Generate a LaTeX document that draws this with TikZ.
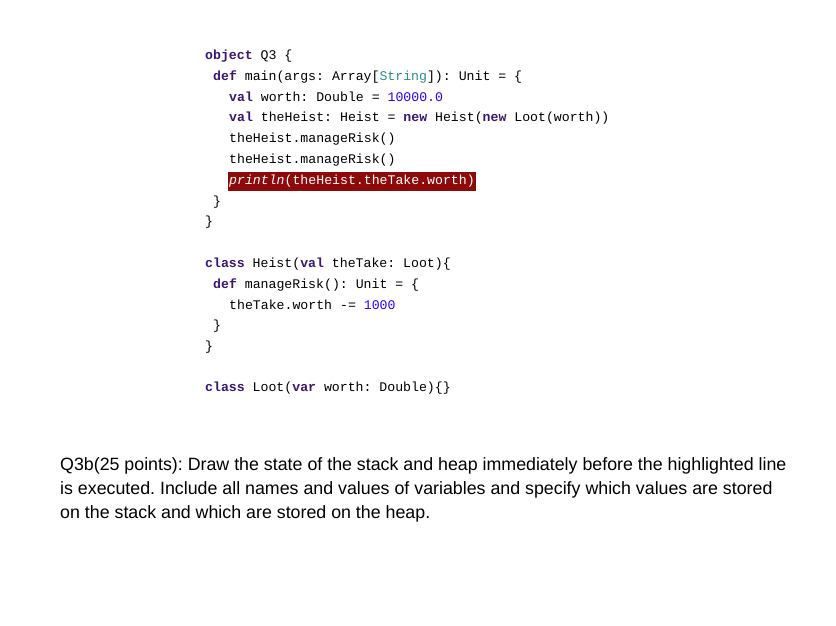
\documentclass[tikz,border=0pt]{standalone}
\usepackage{fontspec}
\setmainfont{Liberation Sans}
\setmonofont{Liberation Mono}
\definecolor{kw}{HTML}{3B1670}
\definecolor{num}{HTML}{2A00FF}
\definecolor{str}{HTML}{2A8F8F}
\definecolor{hl}{HTML}{8E0A0A}
\newcommand{\kw}[1]{\textcolor{kw}{\textbf{#1}}}
\newcommand{\nm}[1]{\textcolor{num}{#1}}
\frenchspacing
\begin{document}
\begin{tikzpicture}[x=1pt,y=1pt,
  code/.style={anchor=base west,inner sep=0pt,font=\ttfamily\fontsize{13.2}{15}\selectfont},
  para/.style={anchor=base west,inner sep=0pt,font=\fontsize{17.8}{20}\selectfont}]
\useasboundingbox[fill=white] (0,0) rectangle (836,625);
\node[code] (l1) at (205,625-60) {\kw{object} Q3 \{};
\node[code] (l2) at (213,625-81) {\kw{def} main(args: Array[\textcolor{str}{String}]): Unit = \{};
\node[code] (l3) at (229,625-102) {\kw{val} worth: Double = \nm{10000.0}};
\node[code] (l4) at (229,625-122) {\kw{val} theHeist: Heist = \kw{new} Heist(\kw{new} Loot(worth))};
\node[code] (l5) at (229,625-143) {theHeist.manageRisk()};
\node[code] (l6) at (229,625-164) {theHeist.manageRisk()};
\node[code,fill=hl,text=white,inner xsep=1pt,inner ysep=3pt] (l7) at (228,625-185) {\textit{println}(theHeist.theTake.worth)};
\node[code] (l8) at (213,625-206) {\}};
\node[code] (l9) at (205,625-226) {\}};
\node[code] (m1) at (205,625-268) {\kw{class} Heist(\kw{val} theTake: Loot)\{};
\node[code] (m2) at (213,625-289) {\kw{def} manageRisk(): Unit = \{};
\node[code] (m3) at (229,625-309) {theTake.worth -= \nm{1000}};
\node[code] (m4) at (213,625-330) {\}};
\node[code] (m5) at (205,625-351) {\}};
\node[code] (n1) at (205,625-391) {\kw{class} Loot(\kw{var} worth: Double)\{\}};
\node[para] (p1) at (60,625-470) {Q3b(25 points): Draw the state of the stack and heap immediately before the highlighted line};
\node[para] (p2) at (60,625-494) {is executed. Include all names and values of variables and specify which values are stored};
\node[para] (p3) at (60,625-518) {on the stack and which are stored on the heap.};
\end{tikzpicture}
\end{document}
